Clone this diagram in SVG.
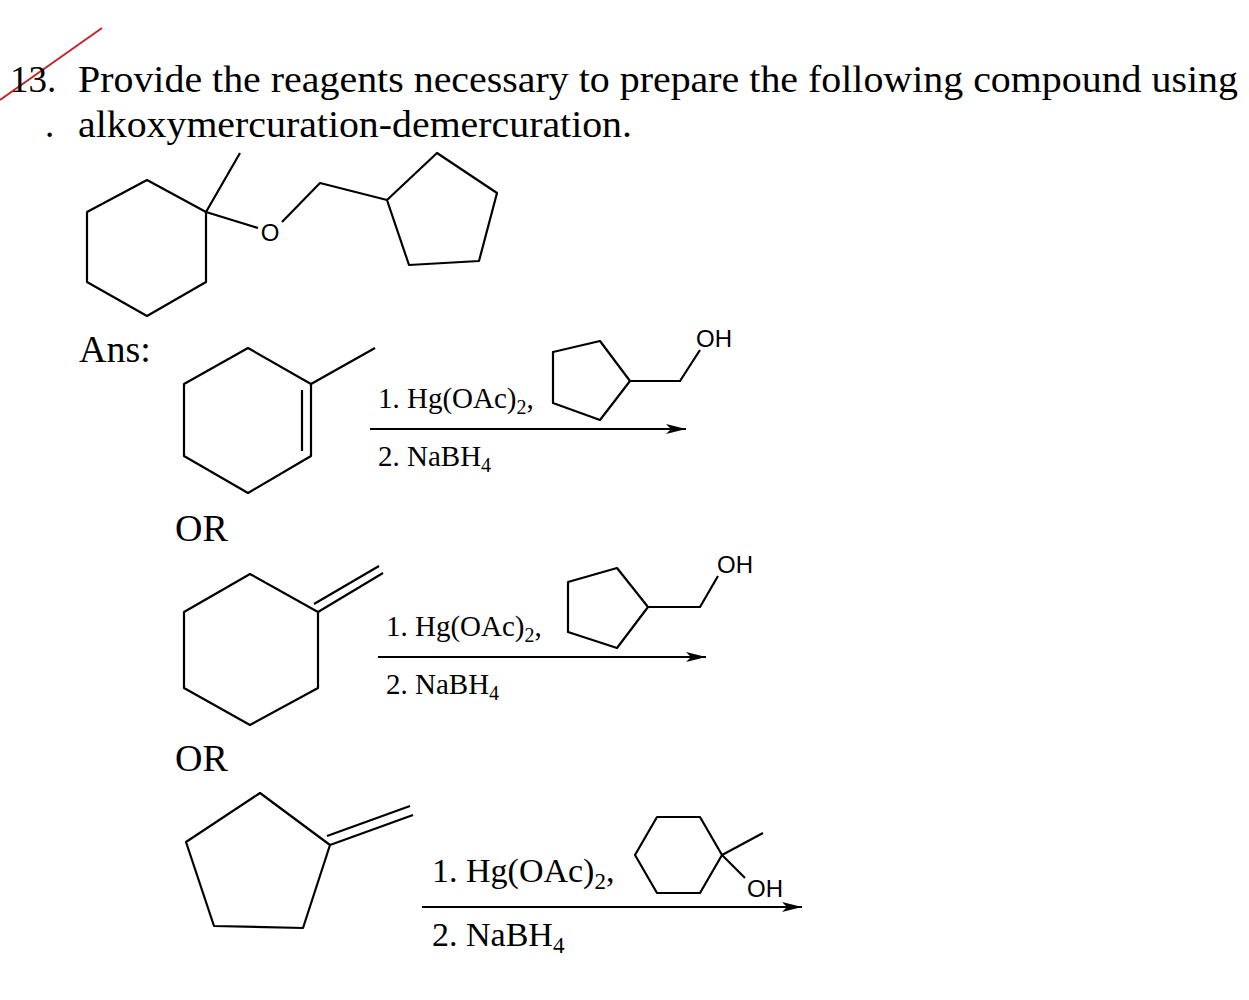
<svg xmlns="http://www.w3.org/2000/svg" width="1249" height="1000" viewBox="0 0 1249 1000">
<style>
.b{stroke:#000;stroke-width:2.2;fill:none;stroke-linejoin:round}
.t{font-family:"Liberation Serif",serif;fill:#000}
.h{font-family:"Liberation Sans",sans-serif;font-size:24px;fill:#000}
.a{stroke:#000;stroke-width:2.2}
</style>
<defs><marker id="ar" viewBox="0 0 20 10" refX="20" refY="5" markerWidth="20" markerHeight="10" markerUnits="userSpaceOnUse" orient="auto"><path d="M0,0 L20,5 L0,10 L5,5 Z" fill="#000"/></marker></defs>
<rect width="1249" height="1000" fill="#fff"/>
<line x1="0" y1="100" x2="102" y2="28" stroke="#c0282d" stroke-width="2"/>
<text class="t" x="10" y="92" font-size="37">13.</text>
<text class="t" x="78" y="92" font-size="37" textLength="1160" lengthAdjust="spacingAndGlyphs">Provide the reagents necessary to prepare the following compound using</text>
<text class="t" x="45" y="137" font-size="37">.</text>
<text class="t" x="78" y="137" font-size="37" textLength="554" lengthAdjust="spacingAndGlyphs">alkoxymercuration-demercuration.</text>
<g id="target">
<polygon class="b" points="147,180 206,212 206,282 147,316 87,282 87,212"/>
<polyline class="b" points="240,153 206,212 258,228"/>
<text class="h" x="270" y="241" text-anchor="middle">O</text>
<polyline class="b" points="282,222 320,183 387,200"/>
<polygon class="b" points="387,200 437,153 497,193 479,261 409,265"/>
</g>
<text class="t" x="79" y="362" font-size="38">Ans:</text>
<g id="mol1">
<polygon class="b" points="248,348 311,384 311,456 248,493 184,456 184,384"/>
<line class="b" x1="302" y1="390" x2="302" y2="451"/>
<line class="b" x1="311" y1="384" x2="375" y2="348"/>
</g>
<g id="r1">
<text class="t" x="378" y="408" font-size="29">1. Hg(OAc)<tspan font-size="20" dy="6">2</tspan><tspan dy="-6">,</tspan></text>
<text class="t" x="378" y="466" font-size="29">2. NaBH<tspan font-size="20" dy="6">4</tspan></text>
<polygon class="b" points="553,352 600,341 630,381 600,420 553,403"/>
<polyline class="b" points="630,381 680,381 700,350"/>
<text class="h" x="714" y="347" text-anchor="middle">OH</text>
</g>
<text class="t" x="175" y="541" font-size="38">OR</text>
<g id="mol2">
<polygon class="b" points="250,574 318,612 318,688 250,725 184,688 184,612"/>
<line class="b" x1="318" y1="612" x2="383" y2="573"/>
<line class="b" x1="314" y1="604" x2="379" y2="566"/>
</g>
<g id="r2">
<text class="t" x="386" y="636" font-size="29">1. Hg(OAc)<tspan font-size="20" dy="6">2</tspan><tspan dy="-6">,</tspan></text>
<text class="t" x="386" y="694" font-size="29">2. NaBH<tspan font-size="20" dy="6">4</tspan></text>
<polygon class="b" points="568,582 617,568 648,607 617,648 568,632"/>
<polyline class="b" points="648,607 700,607 718,576"/>
<text class="h" x="735" y="573" text-anchor="middle">OH</text>
</g>
<text class="t" x="175" y="771" font-size="38">OR</text>
<g id="mol3">
<polygon class="b" points="260,793 330,845 303,928 214,926 186,842"/>
<line class="b" x1="330" y1="845" x2="413" y2="815"/>
<line class="b" x1="327" y1="836" x2="410" y2="806"/>
</g>
<g id="r3">
<text class="t" x="432" y="882" font-size="34">1. Hg(OAc)<tspan font-size="23" dy="7">2</tspan><tspan dy="-7">,</tspan></text>
<text class="t" x="432" y="946" font-size="34">2. NaBH<tspan font-size="23" dy="7">4</tspan></text>
<polygon class="b" points="657,817 700,817 722,855 700,893 657,893 635,855"/>
<line class="b" x1="722" y1="855" x2="763" y2="833"/>
<line class="b" x1="722" y1="855" x2="745" y2="878"/>
<text class="h" x="765" y="897" text-anchor="middle">OH</text>
</g>
<g id="connectors">
<line class="a" x1="370" y1="429" x2="686" y2="429" marker-end="url(#ar)"/>
<line class="a" x1="378" y1="657" x2="706" y2="657" marker-end="url(#ar)"/>
<line class="a" x1="422" y1="907" x2="802" y2="907" marker-end="url(#ar)"/>
</g>
</svg>
